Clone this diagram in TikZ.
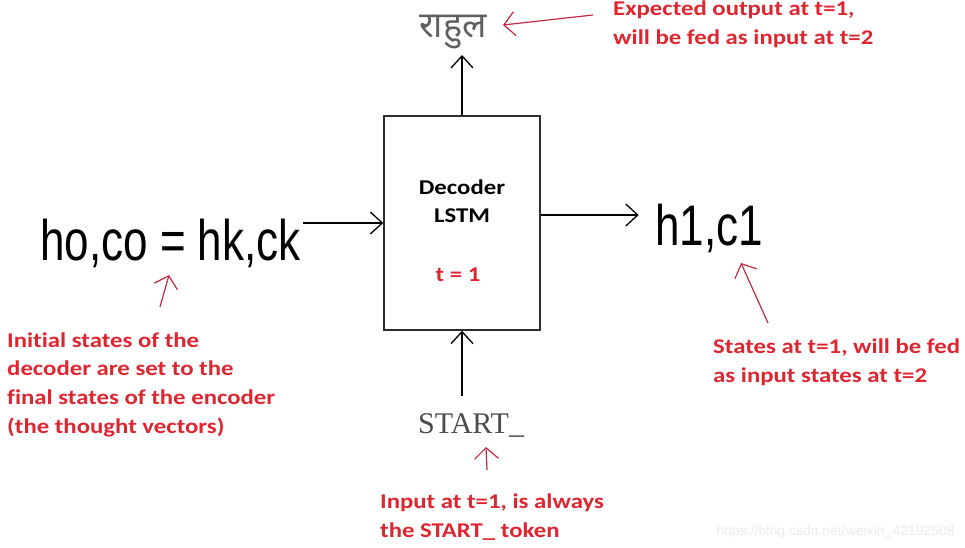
\documentclass[tikz,border=0pt]{standalone}
\usepackage{graphicx}
\usepackage{fontspec}
\setmainfont{Carlito}[FakeStretch=1.18,Ligatures=NoCommon]
\newfontfamily\devfont[Script=Devanagari]{Noto Sans}
\newfontfamily\serifont{Liberation Serif}
\newfontfamily\handfont{Liberation Sans}
\usetikzlibrary{arrows.meta,positioning}
\definecolor{notered}{RGB}{222,38,48}
\definecolor{hintred}{RGB}{196,40,66}
\definecolor{glyphgray}{RGB}{95,95,95}
\definecolor{boxgray}{RGB}{45,45,45}
\newcommand\tallhand[1]{\scalebox{1}[1.3]{#1}}

\tikzset{
  note/.style={anchor=base west, inner sep=0pt, align=left, text=notered,
    font=\fontsize{21}{28.6}\selectfont\bfseries},
  hand/.style={anchor=base west, inner sep=0pt, font=\handfont\fontsize{44}{50}\selectfont},
  flow/.style={-{Straight Barb[length=12pt,width=22pt]}, line width=1.3pt, black},
  hint/.style={-{Straight Barb[length=11pt,width=24pt]}, line width=1.2pt, hintred}
}

\begin{document}
\begin{tikzpicture}[x=1pt,y=-1pt]
\useasboundingbox (0,0) rectangle (965,547);

% to draw the decoder cell
\node [draw=boxgray, line width=1.4pt, minimum width=156pt, minimum height=214pt, inner sep=0pt] (dec) at (462,223) {};
\node [align=center, inner sep=0pt, font=\fontsize{21}{28}\selectfont\bfseries] (declabel) at (462,201) {Decoder\\LSTM};
\node [inner sep=0pt, text=notered, font=\fontsize{21}{24}\selectfont\bfseries] (tstep) at (458,275) {t = 1};

% to write the states and tokens
\node [hand] (init) at (40,260) {\tallhand{ho,co = hk,ck}};
\node [hand] (hone) at (655,245) {\tallhand{h1,c1}};
\node [inner sep=0pt, text=glyphgray, font=\devfont\fontsize{36}{40}\selectfont] (rahul) at (453,32) {राहुल};
\node [anchor=base west, inner sep=0pt, text=glyphgray!80!black, font=\serifont\fontsize{30}{36}\selectfont] (start) at (418,433) {START\_};

% to draw arrows into and out of the cell
\draw [flow] ([xshift=2pt]init.east |- dec.west) -- (dec.west);
\draw [flow] ([yshift=8pt]dec.east) -- ++(98,0);
\draw [flow] (dec.north) -- (dec.north |- 0,55);
\draw [flow] ([yshift=17pt]dec.south |- start.north) -- (dec.south);

% to write the notes
\node [note] (outnote) at (613,44) {Expected output at t=1,\\will be fed as input at t=2};
\node [note] (initnote) at (7,433) {Initial states of the\\decoder are set to the\\final states of the encoder\\(the thought vectors)};
\node [note] (statenote) at (713,382) {States at t=1, will be fed\\as input states at t=2};
\node [note] (startnote) at (380,537) {Input at t=1, is always\\the START\_ token};

% to draw the red pointers
\coordinate (outtail) at (593,15);
\coordinate (outtip) at (503,25);
\coordinate (inittail) at (160,307);
\coordinate (inittip) at (169,275);
\coordinate (statetail) at (768,323);
\coordinate (statetip) at (741,263);
\coordinate (starttail) at (487,470);
\coordinate (starttip) at (486,447);
\draw [hint] (outtail) -- (outtip);
\draw [hint] (inittail) -- (inittip);
\draw [hint] (statetail) -- (statetip);
\draw [hint] (starttail) -- (starttip);

% watermark
\node [anchor=base east, inner sep=0pt, text=black!8, font=\handfont\fontsize{14}{16}\selectfont] (mark) at (955,535) {https://blog.csdn.net/weixin\_42192508};
\end{tikzpicture}
\end{document}
